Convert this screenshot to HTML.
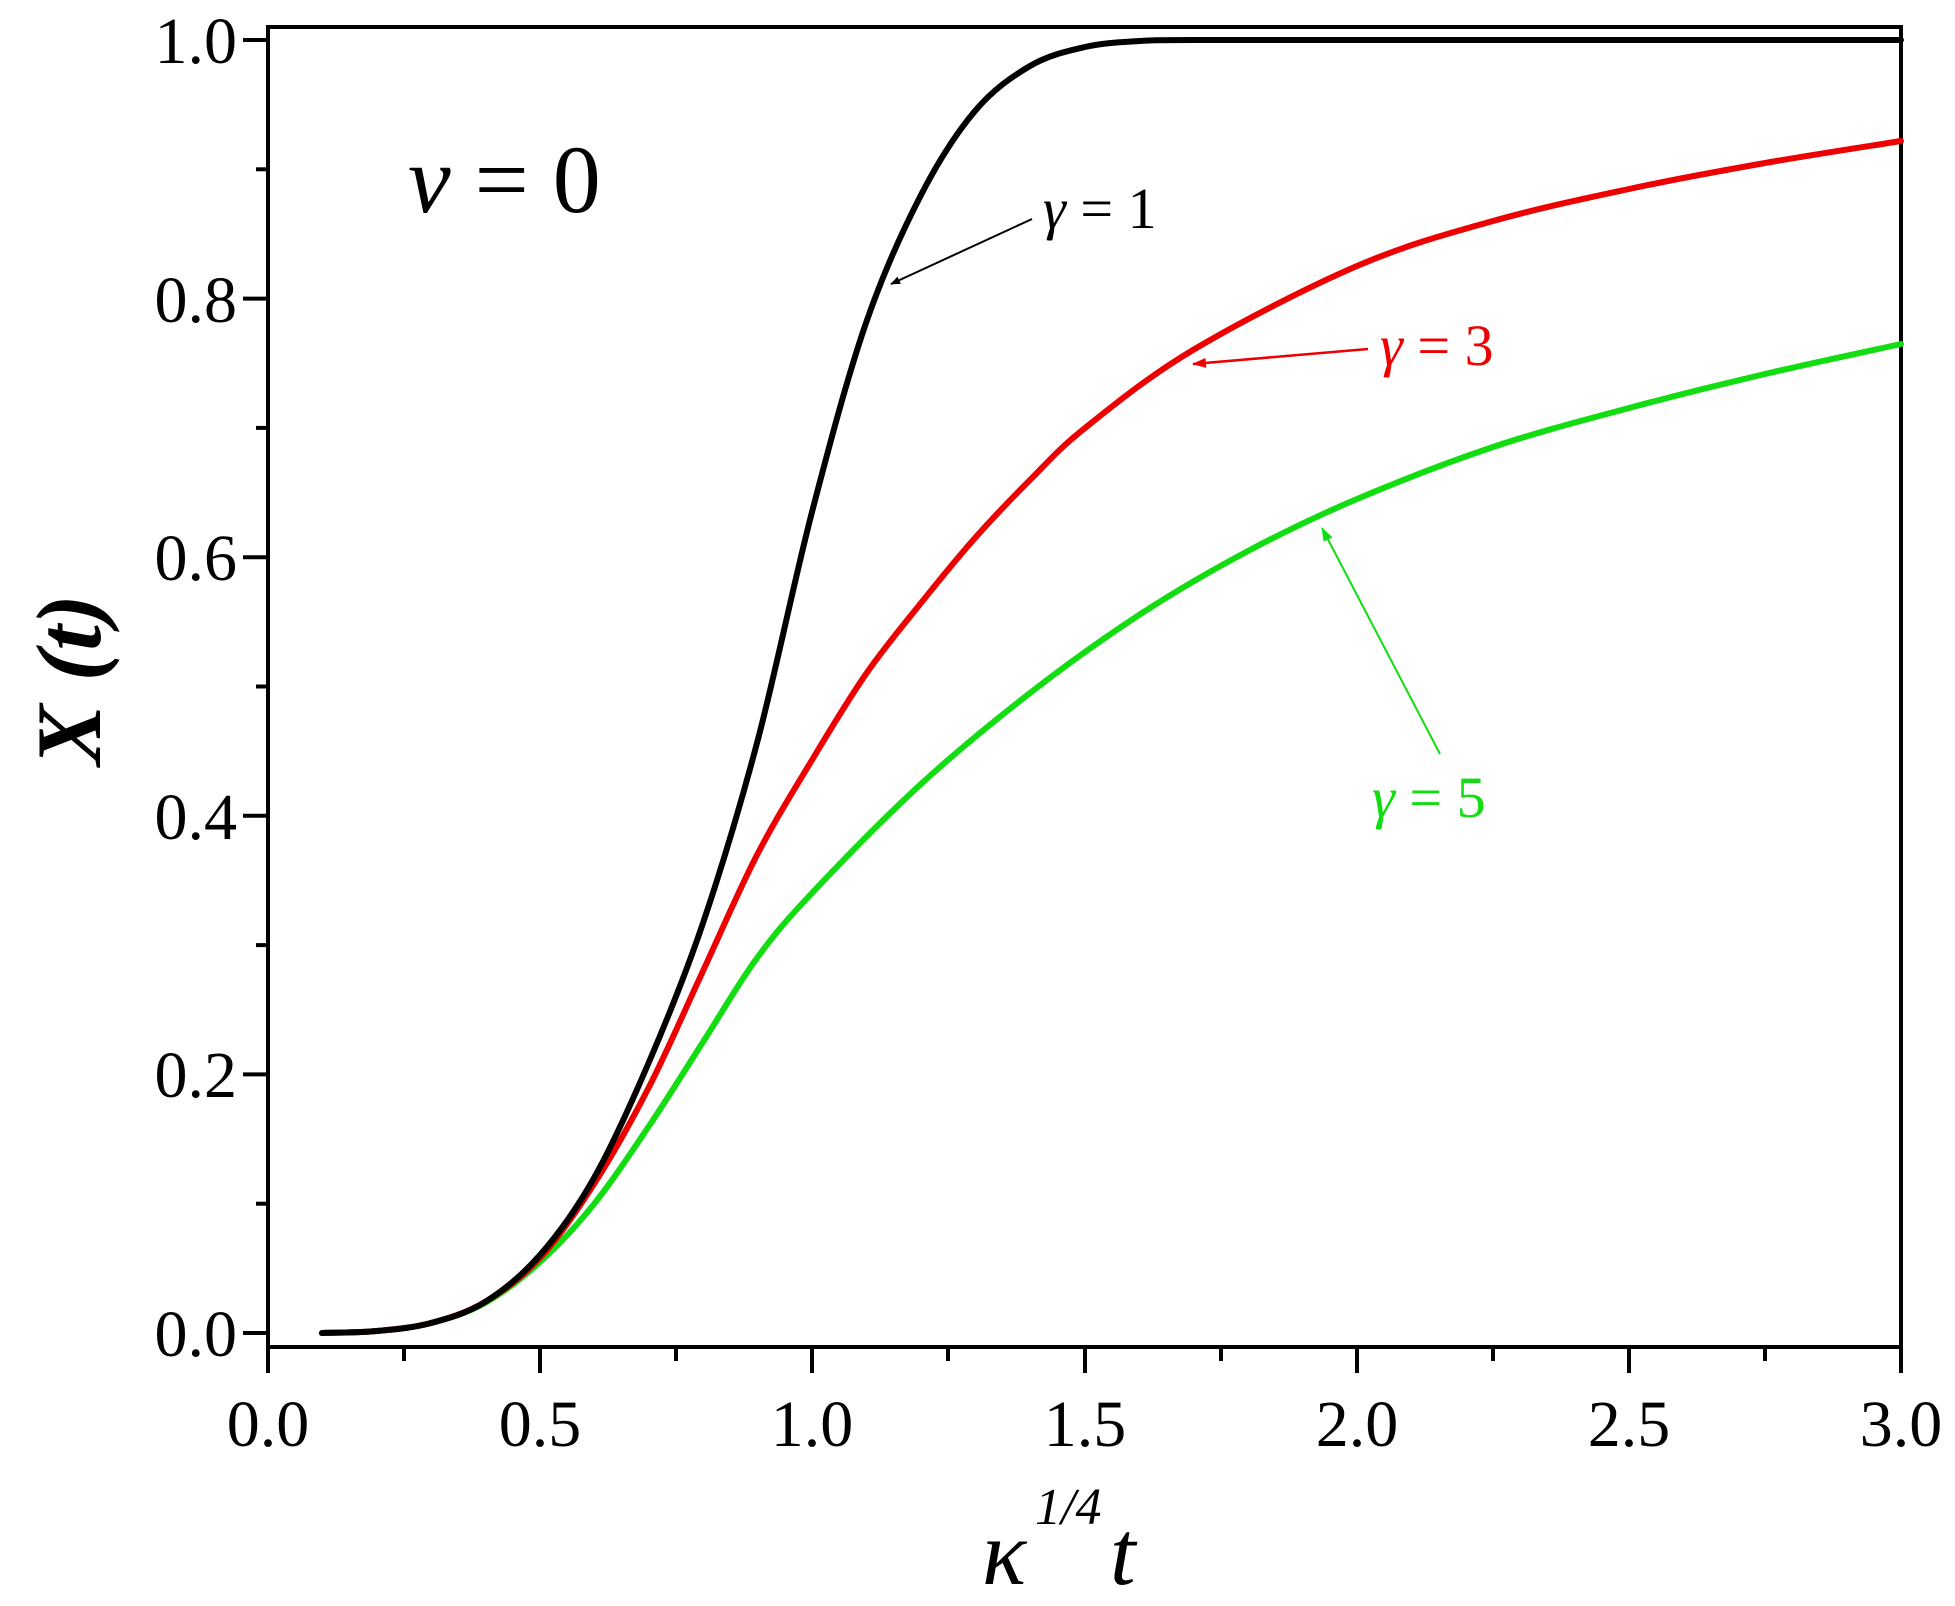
<!DOCTYPE html>
<html><head><style>html,body{margin:0;padding:0;background:#fff;}svg{display:block;}</style></head>
<body>
<svg width="1955" height="1606" viewBox="0 0 1955 1606" xmlns="http://www.w3.org/2000/svg" font-family="Liberation Serif, serif">
<defs>
<marker id="ak" markerWidth="10" markerHeight="8" refX="9" refY="4" orient="auto" markerUnits="userSpaceOnUse"><path d="M0,0 L10,4 L0,8 z" fill="#000"/></marker>
<marker id="ar" markerWidth="14" markerHeight="10" refX="13" refY="5" orient="auto" markerUnits="userSpaceOnUse"><path d="M0,0 L14,5 L0,10 z" fill="#e00"/></marker>
<marker id="ag" markerWidth="14" markerHeight="10" refX="13" refY="5" orient="auto" markerUnits="userSpaceOnUse"><path d="M0,0 L14,5 L0,10 z" fill="#1d1"/></marker>
</defs>
<rect x="268" y="27" width="1633" height="1320" fill="none" stroke="#000" stroke-width="4"/>
<g stroke="#000" stroke-width="4">
<line x1="243" y1="40" x2="268" y2="40"/><line x1="243" y1="298.6" x2="268" y2="298.6"/>
<line x1="243" y1="557.2" x2="268" y2="557.2"/><line x1="243" y1="815.8" x2="268" y2="815.8"/>
<line x1="243" y1="1074.4" x2="268" y2="1074.4"/><line x1="243" y1="1333" x2="268" y2="1333"/>
<line x1="256" y1="169.3" x2="268" y2="169.3"/><line x1="256" y1="427.9" x2="268" y2="427.9"/>
<line x1="256" y1="686.5" x2="268" y2="686.5"/><line x1="256" y1="945.1" x2="268" y2="945.1"/>
<line x1="256" y1="1203.7" x2="268" y2="1203.7"/>
<line x1="268" y1="1347" x2="268" y2="1373"/><line x1="540" y1="1347" x2="540" y2="1373"/>
<line x1="812" y1="1347" x2="812" y2="1373"/><line x1="1085" y1="1347" x2="1085" y2="1373"/>
<line x1="1357" y1="1347" x2="1357" y2="1373"/><line x1="1629" y1="1347" x2="1629" y2="1373"/>
<line x1="1901" y1="1347" x2="1901" y2="1373"/>
<line x1="404" y1="1347" x2="404" y2="1361"/><line x1="676" y1="1347" x2="676" y2="1361"/>
<line x1="948" y1="1347" x2="948" y2="1361"/><line x1="1221" y1="1347" x2="1221" y2="1361"/>
<line x1="1493" y1="1347" x2="1493" y2="1361"/><line x1="1765" y1="1347" x2="1765" y2="1361"/>
</g>
<g font-size="66" fill="#000" text-anchor="end">
<text x="237" y="63">1.0</text><text x="237" y="322">0.8</text><text x="237" y="580">0.6</text>
<text x="237" y="839">0.4</text><text x="237" y="1097">0.2</text><text x="237" y="1356">0.0</text>
</g>
<g font-size="66" fill="#000" text-anchor="middle">
<text x="268" y="1446">0.0</text><text x="540" y="1446">0.5</text><text x="812" y="1446">1.0</text>
<text x="1085" y="1446">1.5</text><text x="1357" y="1446">2.0</text><text x="1629" y="1446">2.5</text>
<text x="1901" y="1446">3.0</text>
</g>
<text transform="translate(100,680) rotate(-90)" font-size="92" font-weight="bold" font-style="italic" text-anchor="middle">X (t)</text>
<text x="982" y="1584" font-size="92" font-style="italic">κ</text>
<text x="1035" y="1524" font-size="52" font-style="italic">1/4</text>
<text x="1110" y="1584" font-size="92" font-style="italic">t</text>
<text x="408" y="212" font-size="96"><tspan font-style="italic">ν</tspan> = 0</text>
<g fill="none" stroke-width="6" stroke-linejoin="round" stroke-linecap="round">
<path id="cg" stroke="#1d1" d=""/>
<path id="cr" stroke="#e00" d=""/>
<path id="ck" stroke="#000" d=""/>
</g>
<line x1="1032" y1="219" x2="891" y2="284" stroke="#000" stroke-width="2" marker-end="url(#ak)"/>
<text x="1043" y="228" font-size="58"><tspan font-style="italic">γ</tspan> = 1</text>
<line x1="1368" y1="349" x2="1193" y2="364" stroke="#e00" stroke-width="2.5" marker-end="url(#ar)"/>
<text x="1380" y="365" font-size="58" fill="#e00"><tspan font-style="italic">γ</tspan> = 3</text>
<line x1="1440" y1="754" x2="1322" y2="528" stroke="#1d1" stroke-width="2" marker-end="url(#ag)"/>
<text x="1372" y="817" font-size="58" fill="#1d1"><tspan font-style="italic">γ</tspan> = 5</text>
</svg>
<script>
function sm(s){var p=s.trim().split(/\s+/).map(function(q){return q.split(',').map(Number);});
var d='M'+p[0][0]+','+p[0][1];
for(var i=0;i<p.length-1;i++){var a=p[i-1]||p[i],b=p[i],c=p[i+1],e=p[i+2]||c;
d+=' C'+(b[0]+(c[0]-a[0])/6).toFixed(1)+','+(b[1]+(c[1]-a[1])/6).toFixed(1)+' '+(c[0]-(e[0]-b[0])/6).toFixed(1)+','+(c[1]-(e[1]-b[1])/6).toFixed(1)+' '+c[0]+','+c[1];}
return d;}
document.getElementById('cg').setAttribute('d',sm("322,1333 377,1331 431,1323 485,1303 540,1262 594,1204 649,1126 703,1042 757,958 812,893 921,784 1030,693 1139,615 1248,551 1357,499 1493,447 1629,408 1765,374 1901,344"));
document.getElementById('cr').setAttribute('d',sm("322,1333 377,1331 431,1323 485,1302 540,1258 594,1184 649,1087 703,971 757,855 812,760 866,674 921,603 975,538 1030,480 1085,428 1193,350 1357,266 1493,221 1629,189 1765,163 1901,141"));
document.getElementById('ck').setAttribute('d',sm("322,1333 377,1331 431,1323 485,1302 540,1255 594,1178 649,1062 703,923 757,743 812,512 866,323 921,195 975,111 1030,66 1085,47 1139,41 1193,40 1357,40 1629,40 1901,40"));
</script>
</body></html>
